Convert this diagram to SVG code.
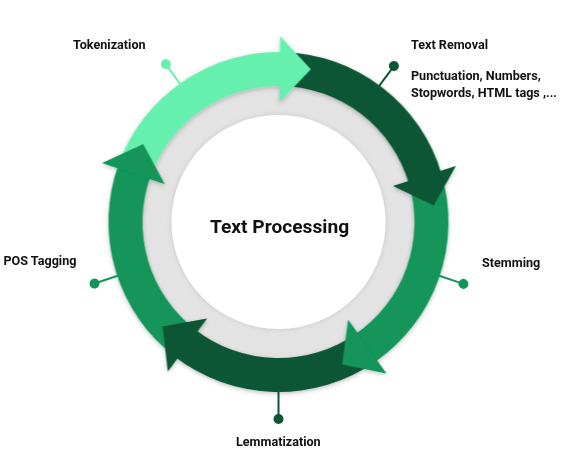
<svg xmlns="http://www.w3.org/2000/svg" width="572" height="456" viewBox="0 0 572 456">
  <defs>
    <filter id="sh" x="-20%" y="-20%" width="140%" height="140%">
      <feDropShadow dx="0" dy="1.5" stdDeviation="2.2" flood-color="#000" flood-opacity="0.25"/>
    </filter>
    <filter id="shw" x="-20%" y="-20%" width="140%" height="140%">
      <feDropShadow dx="0" dy="0" stdDeviation="2.5" flood-color="#000" flood-opacity="0.13"/>
    </filter>
    <path id="body" d="M 53.94 -161.21 A 170 170 0 0 1 169.94 4.45 L 135.95 3.56 A 136 136 0 0 0 43.15 -128.97 Z"/>
    <path id="head" d="M 120 0 L 186 0 L 153 31 Z"/>
  </defs>
  <style>
    .lbl { font-family: Roboto, "Liberation Sans", sans-serif; font-weight: bold; font-size: 12.6px; fill: #111; }
    .title { font-family: Roboto, "Liberation Sans", sans-serif; font-weight: bold; font-size: 19.2px; fill: #111; }
    .light { fill: #66F0AE; }
    .mid { fill: #12955A; }
    .dark { fill: #0A5734; }
    .cl { stroke-width: 2; }
  </style>
  <rect width="572" height="456" fill="#fff"/>
  <g id="ring" transform="translate(278.5,222)">
    <circle r="142" fill="#e3e3e3"/>
    <circle r="107" fill="#fff" filter="url(#shw)"/>
  </g>
  <g id="cycle" transform="translate(278.5,222)" filter="url(#sh)">
    <g id="bodies">
      <use href="#body" class="light" transform="rotate(-89.5)"/>
      <use href="#body" class="dark" transform="rotate(-17.5)"/>
      <use href="#body" class="mid" transform="rotate(54.5)"/>
      <use href="#body" class="dark" transform="rotate(126.5)"/>
      <use href="#body" class="mid" transform="rotate(198.5)"/>
    </g>
    <g id="heads">
      <use href="#head" class="light" transform="rotate(-89.5)"/>
      <use href="#head" class="dark" transform="rotate(-17.5)"/>
      <use href="#head" class="mid" transform="rotate(54.5)"/>
      <use href="#head" class="dark" transform="rotate(126.5)"/>
      <use href="#head" class="mid" transform="rotate(198.5)"/>
    </g>
  </g>
  <g id="connectors" transform="translate(278.5,222)">
    <g transform="rotate(-125.5)"><line x1="168" y1="0" x2="194" y2="0" stroke="#66F0AE" class="cl"/><circle cx="194" cy="0" r="5" class="light"/></g>
    <g transform="rotate(-53.5)"><line x1="168" y1="0" x2="194" y2="0" stroke="#0A5734" class="cl"/><circle cx="194" cy="0" r="5" class="dark"/></g>
    <g transform="rotate(18.5)"><line x1="168" y1="0" x2="195" y2="0" stroke="#12955A" class="cl"/><circle cx="195" cy="0" r="5" class="mid"/></g>
    <g transform="rotate(90)"><line x1="168" y1="0" x2="197" y2="0" stroke="#0A5734" class="cl"/><circle cx="197" cy="0" r="5" class="dark"/></g>
    <g transform="rotate(161.5)"><line x1="168" y1="0" x2="194" y2="0" stroke="#12955A" class="cl"/><circle cx="194" cy="0" r="5" class="mid"/></g>
  </g>
  <g id="center"><text class="title" x="279.5" y="233" text-anchor="middle">Text Processing</text></g>
  <g id="tokenization"><text class="lbl" x="73" y="48.5">Tokenization</text></g>
  <g id="text-removal">
    <text class="lbl" x="411" y="48.5">Text Removal</text>
    <text class="lbl" x="411" y="79.5">Punctuation, Numbers,</text>
    <text class="lbl" x="411" y="97">Stopwords, HTML tags ,...</text>
  </g>
  <g id="stemming"><text class="lbl" x="482" y="267">Stemming</text></g>
  <g id="lemmatization"><text class="lbl" x="236" y="446">Lemmatization</text></g>
  <g id="pos-tagging"><text class="lbl" x="3.5" y="265">POS Tagging</text></g>
</svg>
